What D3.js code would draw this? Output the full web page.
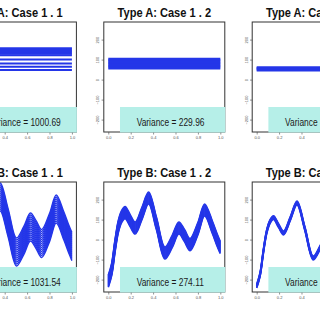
<!DOCTYPE html>
<meta charset="utf-8">

<!-- Load d3.js -->
<script src="https://d3js.org/d3.v7.min.js"></script>

<style>
  body { margin: 0; background: #fff; }
  text { font-family: "Liberation Sans", Arial, sans-serif; }
</style>

<!-- Create a div where the graph will take place -->
<div id="my_dataviz"></div>

<script>

// ---- data ----
var titles = ["Type A: Case 1 . 1", "Type A: Case 1 . 2", "Type A: Case 1 . 3",
              "Type B: Case 1 . 1", "Type B: Case 1 . 2", "Type B: Case 1 . 3"]
var variances = ["1000.69", "229.96", "61.27", "1031.54", "274.11", "63.80"]

// Type A: constant curves (one level per curve)
var levelsA1 = [157, 150, 143, 136, 129, 122, 100, 81, 64, 48]
var levelsA2 = [104, 98, 92, 86, 80, 74, 68, 62, 56]
var levelsA3 = [62, 58, 54, 50, 46]

// Type B: common wavy shape, shifted per curve
var shapeX = [0, 0.03, 0.06, 0.09, 0.12, 0.15, 0.195, 0.24, 0.30, 0.36, 0.43, 0.505,
              0.57, 0.63, 0.68, 0.73, 0.80, 0.86, 0.93, 0.97, 1.0]
var shapeY = [-208, -150, -33, 66, 116, 135, 95, 58, 130, 208, 80, -67,
              -10, 58, 20, -25, 55, 148, 60, 0, -40]
var shiftsB1 = [-65, -55, -45, -35, -25, -15, -5, 5, 15, 25, 35, 45, 55, 65, 75]
var shiftsB2 = [-30, -25, -20, -15, -10, -5, 0, 5, 10, 15, 20, 25, 30]
var shiftsB3 = [-34, -31, -28, -25, -22, -19, -16]

var xTicks = [0, 0.2, 0.4, 0.6, 0.8, 1.0]
var yTicks = [-200, -100, 0, 100, 200]

// ---- layout ----
var W = 320, H = 320
var panelW = 121, panelH = 110
var colLeft = [-44.6, 103.8, 252.2]
var rowTop = [22, 182]
var blue = "#2436e8"
var cyan = "#b6efe8"

var svg = d3.select("#my_dataviz")
  .append("svg")
    .attr("width", W)
    .attr("height", H)

svg.append("rect")
  .attr("width", W).attr("height", H)
  .attr("fill", "#fff")

// squeeze a text horizontally (the original uses a condensed face)
function narrow(sel, k) {
  sel.each(function() {
    var w = this.getComputedTextLength()
    d3.select(this)
      .attr("textLength", w * k)
      .attr("lengthAdjust", "spacingAndGlyphs")
  })
}

var panels = [
  {type: "A", levels: levelsA1},
  {type: "A", levels: levelsA2},
  {type: "A", levels: levelsA3},
  {type: "B", shifts: shiftsB1},
  {type: "B", shifts: shiftsB2},
  {type: "B", shifts: shiftsB3}
]

panels.forEach(function(p, i) {
  var col = i % 3, row = Math.floor(i / 3)
  var left = colLeft[col], top = rowTop[row]

  var x = d3.scaleLinear()
    .domain([-0.04, 1.04])
    .range([left, left + panelW])
  var y = d3.scaleLinear()
    .domain([-262, 288])
    .range([top + panelH, top])

  var g = svg.append("g")

  // title
  g.append("text")
    .attr("x", left + panelW / 2)
    .attr("y", top - 5.3)
    .attr("text-anchor", "middle")
    .attr("font-weight", "bold")
    .attr("font-size", "13.5px")
    .attr("fill", "#111")
    .text(titles[i])
    .call(narrow, 0.82)

  // curves
  var line = d3.line()
    .x(function(d) { return x(d[0]) })
    .y(function(d) { return y(d[1]) })
    .curve(d3.curveCatmullRom.alpha(0.5))

  var curves
  if (p.type == "A") {
    curves = p.levels.map(function(v) { return [[0, v], [1, v]] })
  } else {
    curves = p.shifts.map(function(s) {
      return shapeX.map(function(xx, k) { return [xx, shapeY[k] + s] })
    })
  }
  g.selectAll("path.curve")
    .data(curves)
    .enter()
    .append("path")
      .attr("class", "curve")
      .attr("d", line)
      .attr("fill", "none")
      .attr("stroke", blue)
      .attr("stroke-width", p.type == "A" ? 2 : (i == 3 ? 1.45 : 1.7))

  // box
  g.append("rect")
    .attr("x", left).attr("y", top)
    .attr("width", panelW).attr("height", panelH)
    .attr("fill", "none")
    .attr("stroke", "#333")
    .attr("stroke-width", 1)

  // axes
  var ax = g.append("g")
    .attr("transform", "translate(0," + (top + panelH) + ")")
    .call(d3.axisBottom(x).tickValues(xTicks).tickFormat(d3.format(".1f")).tickSize(2.5).tickPadding(2))
  var ay = g.append("g")
    .attr("transform", "translate(" + left + ",0)")
    .call(d3.axisLeft(y).tickValues(yTicks).tickSize(2.2).tickPadding(1.5))
  ;[ax, ay].forEach(function(a) {
    a.select(".domain").remove()
    a.selectAll("line").attr("stroke", "#444").attr("stroke-width", 0.6)
    a.selectAll("text")
      .attr("font-size", "4px")
      .attr("font-family", "'Liberation Sans', sans-serif")
      .attr("fill", "#555")
  })
  ay.selectAll("text")
    .attr("text-anchor", "middle")
    .attr("dy", 0)
    .attr("x", 0)
    .attr("transform", "translate(-4.5,0) rotate(-90)")

  // variance legend
  var boxX = x(0) + 11.7
  g.append("rect")
    .attr("x", boxX)
    .attr("y", top + 85)
    .attr("width", left + panelW - boxX + 0.5)
    .attr("height", 25.5)
    .attr("fill", cyan)

  g.append("text")
    .attr("x", boxX + 16.7)
    .attr("y", top + 104)
    .attr("font-size", "10.5px")
    .attr("fill", "#1a1a1a")
    .text("Variance = " + variances[i])
    .call(narrow, 0.8)
})

</script>
